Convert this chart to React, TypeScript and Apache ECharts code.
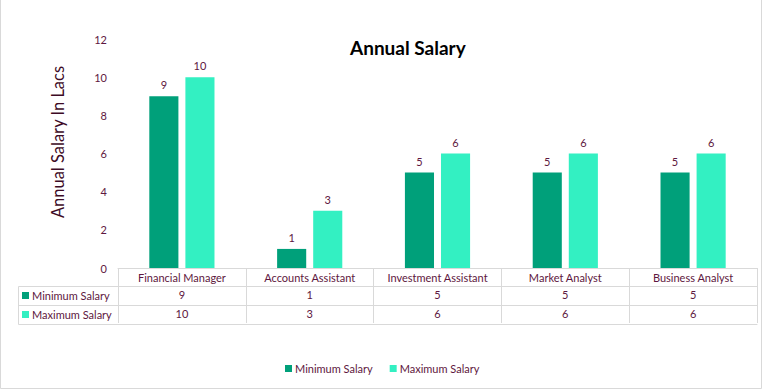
import React, { useEffect, useRef } from "react";
import * as echarts from "echarts";

const categories = ["Financial Manager", "Accounts Assistant", "Investment Assistant", "Market Analyst", "Business Analyst"];
const minSalary = [9, 1, 5, 5, 5];
const maxSalary = [10, 3, 6, 6, 6];
const seriesNames = ["Minimum Salary", "Maximum Salary"];
const yTicks = { min: 0, max: 12, interval: 2 };

const FONT = "Lato";
const TXT = "#5e1740";
const LINE = "#d9d9d9";
const C1 = "#00a07a";
const C2 = "#33f0c2";

const GL = 118, GR = 5, GT = 39, GB = 121;
const W = 762, H = 389;

export default function App() {
  const ref = useRef<HTMLDivElement>(null);
  useEffect(() => {
    const chart = echarts.init(ref.current!, null, { renderer: "svg" });
    const axisY = 269;
    const rowH = [17, 19, 19];
    const r1 = axisY + rowH[0];
    const r2 = r1 + rowH[1];
    const r3 = r2 + rowH[2];
    const colors = [C1, C2];
    const valueArrays = [minSalary, maxSalary];
    const baseOff = axisY - (H - GB);
    const valueAxis = (idx: number, offset: number) => ({
      type: "category",
      data: categories,
      position: "bottom",
      offset: baseOff + offset,
      gridIndex: 0,
      axisLine: { show: true, lineStyle: { color: LINE, width: 1 } },
      axisTick: { show: false },
      axisLabel: {
        margin: 3,
        fontSize: 11,
        fontFamily: FONT,
        color: TXT,
        interval: 0,
        formatter: (_v: string, i: number) => String(valueArrays[idx][i]),
      },
    });
    const leftCol: any[] = [];
    seriesNames.forEach((n, i) => {
      const top = i === 0 ? r1 : r2;
      leftCol.push({
        type: "rect",
        shape: { x: 22, y: top + 6, width: 7, height: 7 },
        style: { fill: colors[i] },
      });
      leftCol.push({
        type: "text",
        x: 32,
        y: top + 9.5,
        style: { text: n, fontSize: 11, fontFamily: FONT, fill: TXT, textVerticalAlign: "middle" },
      });
    });
    chart.setOption({
      animation: false,
      backgroundColor: "#ffffff",
      title: {
        text: "Annual Salary",
        left: 345,
        top: 33,
        textStyle: { fontSize: 19, fontWeight: "bold", fontFamily: FONT, color: "#000000" },
      },
      legend: {
        data: seriesNames,
        left: 285,
        top: 363,
        itemWidth: 7,
        itemHeight: 7,
        itemGap: 17,
        icon: "rect",
        padding: 0,
        textStyle: { fontSize: 11, fontFamily: FONT, color: TXT, padding: [0, 0, 0, -2] },
      },
      grid: { left: GL, right: GR, top: GT, bottom: GB, containLabel: false },
      xAxis: [
        {
          type: "category",
          data: categories,
          position: "bottom",
          offset: baseOff,
          axisLine: { show: true, lineStyle: { color: LINE, width: 1 } },
          axisTick: { show: true, length: r3 - axisY, lineStyle: { color: LINE, width: 1 } },
          axisLabel: { margin: 3, fontSize: 11, fontFamily: FONT, color: TXT, interval: 0 },
        },
        valueAxis(0, rowH[0]),
        valueAxis(1, rowH[0] + rowH[1]),
        {
          type: "category",
          data: categories,
          position: "bottom",
          offset: baseOff + rowH[0] + rowH[1] + rowH[2],
          axisLine: { show: true, lineStyle: { color: LINE, width: 1 } },
          axisTick: { show: false },
          axisLabel: { show: false },
        },
      ],
      yAxis: {
        type: "value",
        min: yTicks.min,
        max: yTicks.max,
        interval: yTicks.interval,
        axisLine: { show: false },
        axisTick: { show: false },
        splitLine: { show: false },
        axisLabel: { margin: 11, fontSize: 11, fontFamily: FONT, color: TXT },
      },
      series: [
        {
          name: seriesNames[0],
          type: "bar",
          data: minSalary,
          itemStyle: { color: C1 },
          barGap: "24%",
          barCategoryGap: "49%",
          label: { show: true, position: "top", distance: 6, fontSize: 11, fontFamily: FONT, color: TXT },
        },
        {
          name: seriesNames[1],
          type: "bar",
          data: maxSalary,
          itemStyle: { color: C2 },
          barGap: "24%",
          barCategoryGap: "49%",
          label: { show: true, position: "top", distance: 6, fontSize: 11, fontFamily: FONT, color: TXT },
        },
      ],
      graphic: [
        {
          type: "text",
          x: 58,
          y: 142,
          rotation: Math.PI / 2,
          style: {
            text: "Annual Salary In Lacs",
            fontSize: 16.5,
            fontFamily: FONT,
            fill: "#3d0a25",
            textAlign: "center",
            textVerticalAlign: "middle",
          },
        },
        { type: "line", shape: { x1: 18.5, y1: r1 + 0.5, x2: GL, y2: r1 + 0.5 }, style: { stroke: LINE, lineWidth: 1 } },
        { type: "line", shape: { x1: 18.5, y1: r2 + 0.5, x2: GL, y2: r2 + 0.5 }, style: { stroke: LINE, lineWidth: 1 } },
        { type: "line", shape: { x1: 18.5, y1: r3 + 0.5, x2: GL, y2: r3 + 0.5 }, style: { stroke: LINE, lineWidth: 1 } },
        { type: "line", shape: { x1: 18.5, y1: r1 + 0.5, x2: 18.5, y2: r3 + 0.5 }, style: { stroke: LINE, lineWidth: 1 } },
        ...leftCol,
        { type: "line", shape: { x1: 0.5, y1: 0, x2: 0.5, y2: H - 0.5 }, style: { stroke: LINE, lineWidth: 1 } },
        { type: "line", shape: { x1: 0.5, y1: H - 0.5, x2: W - 0.5, y2: H - 0.5 }, style: { stroke: LINE, lineWidth: 1 } },
        { type: "line", shape: { x1: W - 0.5, y1: 0, x2: W - 0.5, y2: H - 0.5 }, style: { stroke: LINE, lineWidth: 1 } },
      ],
    });
    return () => chart.dispose();
  }, []);
  return <div ref={ref} style={{ position: "fixed", left: 0, top: 0, width: W, height: H }} />;
}
